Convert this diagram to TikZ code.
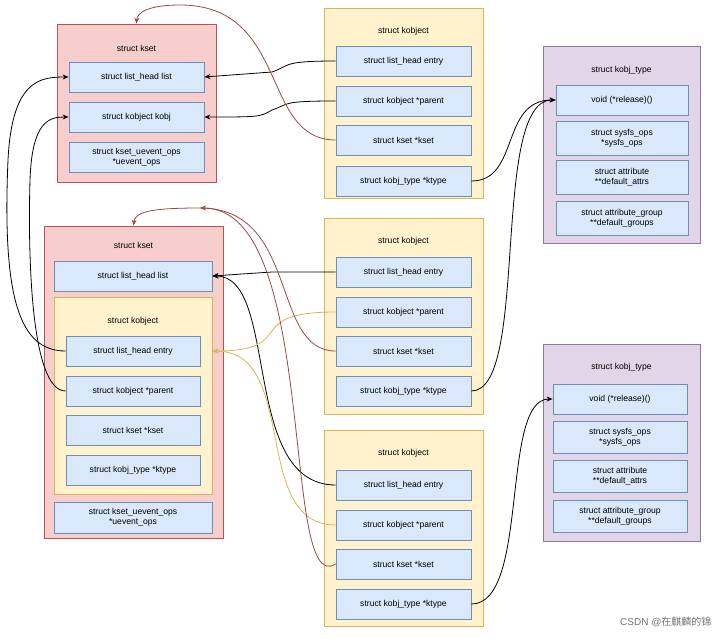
\documentclass[tikz,border=0pt]{standalone}
\usepackage{fontspec}
\setmainfont{Liberation Sans}
\newfontfamily\cjk{Noto Sans CJK SC}
\usetikzlibrary{arrows.meta}
\definecolor{ksfill}{HTML}{F8CECC}\definecolor{ksline}{HTML}{B85450}
\definecolor{kofill}{HTML}{FFF2CC}\definecolor{koline}{HTML}{D6B656}
\definecolor{itfill}{HTML}{DAE8FC}\definecolor{itline}{HTML}{6C8EBF}
\definecolor{ktfill}{HTML}{E1D5E7}\definecolor{ktline}{HTML}{9673A6}
\begin{document}
\begin{tikzpicture}[x=1pt,y=-1pt,font=\fontsize{8.6}{10}\selectfont,
 box/.style={draw,line width=0.8pt,inner sep=0pt},
 kset/.style={box,fill=ksfill,draw=ksline},
 kobj/.style={box,fill=kofill,draw=koline},
 ktype/.style={box,fill=ktfill,draw=ktline},
 item/.style={box,fill=itfill,draw=itline,align=center},
 lbl/.style={},
 ar/.style={-{Stealth[length=6pt,width=5pt]},line width=0.8pt},
 blk/.style={ar,black},
 red/.style={ar,draw=ksline!85!black},
 yel/.style={ar,draw=koline}]
\useasboundingbox (0,0) rectangle (720,639);
% macro-like helper via pic is avoided; direct nodes
% ---- top kset
\node[kset,minimum width=159,minimum height=158] (KS1) at (136.5,103) {};
\node at (136.5,48) {struct kset};
\node[item,minimum width=135,minimum height=30] (KS1l) at (136.5,77) {struct list\_head list};
\node[item,minimum width=135,minimum height=30] (KS1k) at (136.5,117) {struct kobject kobj};
\node[item,minimum width=135,minimum height=30] (KS1u) at (136.5,157) {struct kset\_uevent\_ops\\*uevent\_ops};
% ---- top kobject
\node[kobj,minimum width=159,minimum height=190] (KO1) at (403.5,103) {};
\node at (403.5,31) {struct kobject};
\node[item,minimum width=135,minimum height=30] (KO1e) at (403.5,61) {struct list\_head entry};
\node[item,minimum width=135,minimum height=30] (KO1p) at (403.5,101) {struct kobject *parent};
\node[item,minimum width=135,minimum height=30] (KO1s) at (403.5,140) {struct kset *kset};
\node[item,minimum width=135,minimum height=30] (KO1t) at (403.5,181) {struct kobj\_type *ktype};
% ---- top kobj_type
\node[ktype,minimum width=157,minimum height=197] (KT1) at (621.5,144.5) {};
\node at (621.5,70) {struct kobj\_type};
\node[item,minimum width=132,minimum height=30] (KT1r) at (622,100) {void (*release)()};
\node[item,minimum width=132,minimum height=34] (KT1s) at (622,138) {struct sysfs\_ops\\*sysfs\_ops};
\node[item,minimum width=132,minimum height=34] (KT1a) at (622,177) {struct attribute\\**default\_attrs};
\node[item,minimum width=132,minimum height=34] (KT1g) at (622,218) {struct attribute\_group\\**default\_groups};
% ---- middle kset
\node[kset,minimum width=179,minimum height=312] (KS2) at (133.5,382) {};
\node at (133.5,245) {struct kset};
\node[item,minimum width=158,minimum height=30] (KS2l) at (133,276) {struct list\_head list};
\node[kobj,minimum width=158,minimum height=197] (KS2o) at (133,395.5) {};
\node at (133,321) {struct kobject};
\node[item,minimum width=134,minimum height=30] (KS2e) at (133,351) {struct list\_head entry};
\node[item,minimum width=134,minimum height=30] (KS2p) at (133,391) {struct kobject *parent};
\node[item,minimum width=134,minimum height=30] (KS2s) at (133,430) {struct kset *kset};
\node[item,minimum width=134,minimum height=30] (KS2t) at (133,470) {struct kobj\_type *ktype};
\node[item,minimum width=158,minimum height=31] (KS2u) at (133,517.5) {struct kset\_uevent\_ops\\*uevent\_ops};
% ---- middle kobject
\node[kobj,minimum width=159,minimum height=196] (KO2) at (403.5,316) {};
\node at (403.5,241) {struct kobject};
\node[item,minimum width=135,minimum height=30] (KO2e) at (403.5,272) {struct list\_head entry};
\node[item,minimum width=135,minimum height=30] (KO2p) at (403.5,312) {struct kobject *parent};
\node[item,minimum width=135,minimum height=30] (KO2s) at (403.5,351) {struct kset *kset};
\node[item,minimum width=135,minimum height=30] (KO2t) at (403.5,391) {struct kobj\_type *ktype};
% ---- bottom kobject
\node[kobj,minimum width=159,minimum height=196] (KO3) at (403.5,528) {};
\node at (403.5,453) {struct kobject};
\node[item,minimum width=135,minimum height=30] (KO3e) at (403.5,485) {struct list\_head entry};
\node[item,minimum width=135,minimum height=30] (KO3p) at (403.5,525) {struct kobject *parent};
\node[item,minimum width=135,minimum height=30] (KO3s) at (403.5,564) {struct kset *kset};
\node[item,minimum width=135,minimum height=30] (KO3t) at (403.5,604) {struct kobj\_type *ktype};
% ---- bottom kobj_type
\node[ktype,minimum width=157,minimum height=197] (KT2) at (621.5,442.5) {};
\node at (621.5,367) {struct kobj\_type};
\node[item,minimum width=134,minimum height=30] (KT2r) at (620,399) {void (*release)()};
\node[item,minimum width=134,minimum height=32] (KT2s) at (620,437) {struct sysfs\_ops\\*sysfs\_ops};
\node[item,minimum width=134,minimum height=32] (KT2a) at (620,476) {struct attribute\\**default\_attrs};
\node[item,minimum width=134,minimum height=32] (KT2g) at (620,516) {struct attribute\_group\\**default\_groups};
% ---- connectors
\draw[blk] (KO1e.west) .. controls (280,61) and (290,66) .. (272,72) -- (KS1l.east);
\draw[blk] (KO1p.west) .. controls (280,101) and (290,104) .. (272,110) .. controls (260,117) .. (KS1k.east);
\draw[red] (KO1s.west) .. controls (260,140) and (290,5) .. (180,5) .. controls (150,5) and (137,12) .. (KS1.north);
\draw[blk] (KO1t.east) .. controls (520,181) and (500,100) .. (KT1r.west);
\draw[blk] (KO2t.east) .. controls (530,391) and (490,100) .. (KT1r.west);
\draw[blk] (KO3t.east) .. controls (530,604) and (500,399) .. (KT2r.west);
\draw[blk] (KS2e.west) .. controls (20,351) and (2,300) .. (8,160) .. controls (12,80) and (40,77) .. (KS1l.west);
\draw[blk] (KS2p.west) .. controls (30,391) and (28,250) .. (30,180) .. controls (32,120) and (50,117) .. (KS1k.west);
\draw[blk] (KO2e.west) -- (272,272) -- (KS2l.east);
\draw[blk] (KO3e.west) .. controls (240,485) and (280,276) .. (KS2l.east);
\draw[yel] (KO2p.west) .. controls (240,312) and (300,351) .. (KS2o.east |- KS2e);
\draw[yel] (KO3p.west) .. controls (250,525) and (300,351) .. (KS2o.east |- KS2e);
\draw[red] (KO2s.west) .. controls (270,351) and (300,208) .. (200,208) .. controls (150,208) and (135,212) .. (KS2.north);
\draw[red] (KO3s.west) .. controls (280,600) and (320,208) .. (200,208);
% watermark
\node[text=black!55,anchor=east,font=\fontsize{10}{12}\selectfont] (wm) at (715,622) {CSDN @{\cjk 在麒麟的锦}};
\end{tikzpicture}
\end{document}
